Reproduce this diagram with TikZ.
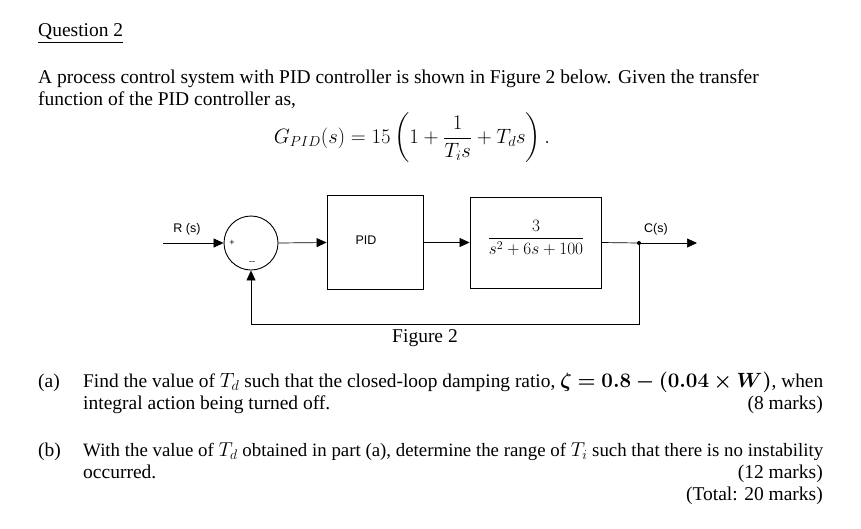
\documentclass[tikz,border=0pt]{standalone}
\usepackage{amsmath,bm,graphicx}
\usepackage{fontspec}
\setmainfont{Liberation Serif}
\newfontfamily\blk{Liberation Sans}
\usetikzlibrary{arrows.meta}
\begin{document}
\begin{tikzpicture}[x=1pt,y=-1pt,
  txt/.style={anchor=base west,inner sep=0pt,font=\fontsize{19.5}{22}\selectfont},
  rtxt/.style={anchor=base east,inner sep=0pt,font=\fontsize{19.5}{22}\selectfont},
  lbl/.style={inner sep=0pt,font=\blk\fontsize{12.5}{14}\selectfont},
  box/.style={draw,line width=0.9pt,minimum width=96pt,minimum height=94pt,inner sep=0pt},
  sig/.style={line width=0.7pt,-{Triangle[length=10pt,width=9pt]}},
  ln/.style={line width=0.7pt}]
\useasboundingbox (0,0) rectangle (861,528);
\node[txt] (q) at (38,36) {\underline{Question 2}};
\node[txt] (p1) at (38,83) {A process control system with PID controller is shown in Figure 2 below. Given the transfer};
\node[txt] (p2) at (38,105) {function of the PID controller as,};
\node[inner sep=0pt,font=\fontsize{22}{25}\selectfont] (eq) at (412,138) {$G_{PID}(s)=15\left(1+\dfrac{1}{T_i s}+T_d s\right).$};
% diagram
\coordinate (in) at (163,243);
\node[draw,circle,line width=0.9pt,minimum size=54pt,inner sep=0pt] (sum) at (251,243) {};
\node[box] (pid) at (375,242.5) {};
\node[lbl] at (366,240) {PID};
\node[box,minimum width=131pt,minimum height=91pt] (pl) at (535.5,242.5) {};
\node[inner sep=0pt,font=\fontsize{17}{19}\selectfont] (plt) at (536,238) {$\dfrac{3}{s^2+6s+100}$};
\coordinate (br) at (639,243);
\coordinate (out) at (697,243);
\coordinate (fb) at (639,324);
\coordinate (fb2) at (251,324);
\draw[sig] (in) -- (sum.west);
\draw[sig] (sum.east) -- (pid.west);
\draw[sig] (pid.east) -- (pl.west);
\draw[ln] (pl.east) -- (br);
\draw[sig] (br) -- (out);
\draw[sig] (br) -- (fb) -- (fb2) -- (sum.south);
\fill (br) circle (2pt);
\node[lbl] at (187,229) {R (s)};
\node[lbl] at (656,229) {C(s)};
\node[lbl,font=\blk\fontsize{9}{10}\selectfont] at (232,243) {+};
\node[lbl,font=\blk\fontsize{9}{10}\selectfont] at (252,263) {--};
\node[inner sep=0pt,font=\fontsize{19.5}{22}\selectfont] (f2) at (425,338) {Figure 2};
% parts
\node[txt] (a) at (38,387) {(a)};
\node[txt] (a1) at (83,387) {\resizebox{740pt}{!}{Find the value of $T_d$ such that the closed-loop damping ratio, $\bm{\zeta=0.8-(0.04\times W)}$, when}};
\node[txt] (a2) at (83,409) {integral action being turned off.};
\node[rtxt] (a3) at (823,409) {(8 marks)};
\node[txt] (b) at (38,456) {(b)};
\node[txt] (b1) at (83,456) {\resizebox{740pt}{!}{With the value of $T_d$ obtained in part (a), determine the range of $T_i$ such that there is no instability}};
\node[txt] (b2) at (83,478) {occurred.};
\node[rtxt] (b3) at (823,478) {(12 marks)};
\node[rtxt] (b4) at (823,500) {(Total: 20 marks)};
\end{tikzpicture}
\end{document}
